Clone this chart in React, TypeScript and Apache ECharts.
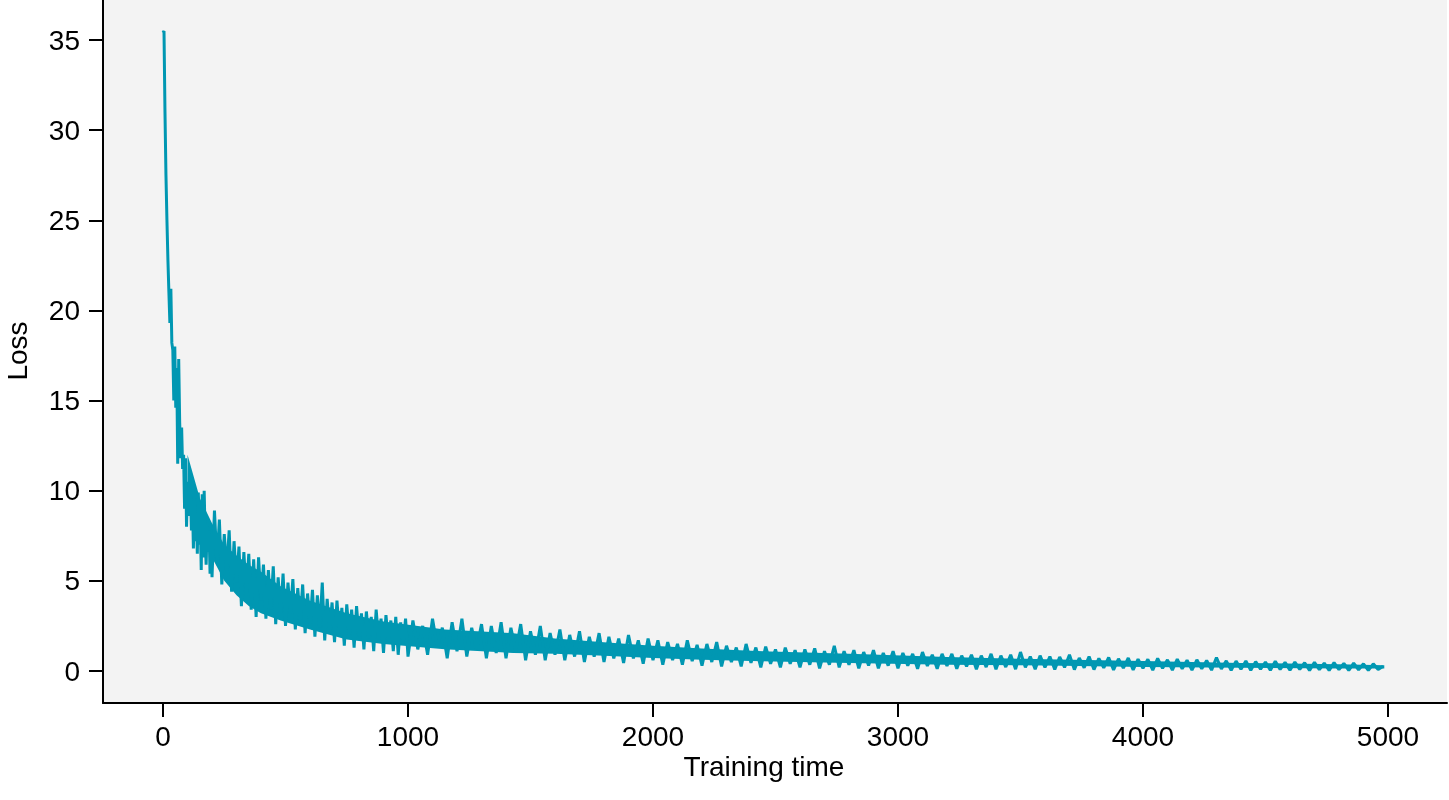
import React, { useEffect, useRef } from 'react';
import * as echarts from 'echarts';

// training steps 0..196, every 4
const earlyStart = 0;
const earlyStep = 4;
const earlyLoss = [
  35.4, 35.5, 31.0, 27.5, 25.0, 22.8, 21.0, 19.3, 21.2, 18.2,
  17.8, 15.0, 18.0, 14.6, 16.8, 11.5, 17.3, 13.8, 11.8, 13.5,
  11.2, 12.0, 9.0, 11.8, 8.0, 10.5, 9.2, 8.6, 10.0, 7.8,
  9.4, 6.8, 9.6, 7.2, 8.8, 6.5, 9.9, 7.0, 8.4, 5.6,
  9.8, 6.3, 10.0, 7.4, 5.9, 8.1, 6.6, 7.8, 5.4, 7.6,
];

// training steps 200..990, every 10
const midStart = 200;
const midStep = 10;
const midLoss = [
  5.2, 8.9, 6.0, 8.4, 4.8, 7.6, 5.6, 7.8, 4.4, 7.2,
  4.9, 6.9, 3.6, 6.6, 4.2, 6.5, 3.4, 6.2, 3.0, 6.3,
  3.9, 5.9, 2.9, 5.6, 3.4, 5.8, 2.6, 5.2, 3.1, 5.4,
  2.5, 4.9, 3.2, 5.1, 2.3, 4.6, 2.8, 4.8, 2.1, 4.3,
  2.6, 4.5, 1.9, 4.2, 2.4, 4.9, 1.7, 4.0, 2.2, 3.8,
  1.6, 3.9, 2.1, 3.5, 1.4, 3.7, 2.0, 3.4, 1.3, 3.6,
  1.9, 3.2, 1.2, 3.3, 1.8, 3.0, 1.1, 3.4, 1.7, 2.9,
  1.0, 3.1, 1.6, 2.8, 1.1, 3.0, 0.9, 2.7, 1.5, 2.9,
];

// training steps 1000..4980, every 20
const lateStart = 1000;
const lateStep = 20;
const lateLoss = [
  0.8, 2.8, 1.2, 2.5, 0.9, 2.9, 1.3, 2.4, 0.7, 2.7,
  1.1, 2.9, 0.8, 2.4, 1.2, 2.6, 0.7, 2.5, 1.0, 2.7,
  0.7, 2.4, 1.1, 2.6, 0.6, 2.2, 0.9, 2.5, 0.6, 2.1,
  0.9, 2.3, 0.6, 2.0, 0.8, 2.2, 0.5, 1.9, 0.8, 2.1,
  0.5, 1.9, 0.7, 1.8, 0.45, 2.0, 0.7, 1.7, 0.4, 1.8,
  0.6, 1.7, 0.35, 1.6, 0.6, 1.5, 0.35, 1.7, 0.55, 1.45,
  0.3, 1.5, 0.5, 1.6, 0.25, 1.4, 0.5, 1.3, 0.25, 1.5,
  0.45, 1.3, 0.2, 1.35, 0.4, 1.2, 0.2, 1.3, 0.4, 1.15,
  0.2, 1.2, 0.35, 1.25, 0.15, 1.1, 0.35, 1.4, 0.2, 1.1,
  0.35, 1.15, 0.15, 1.05, 0.3, 1.15, 0.15, 1.0, 0.3, 1.1,
  0.15, 1.0, 0.3, 0.95, 0.12, 1.05, 0.28, 0.9, 0.12, 0.95,
  0.28, 0.95, 0.12, 0.85, 0.25, 0.9, 0.1, 0.85, 0.22, 0.95,
  0.1, 0.85, 0.22, 0.9, 0.1, 1.05, 0.2, 0.8, 0.1, 0.85,
  0.2, 0.8, 0.08, 0.78, 0.2, 0.9, 0.08, 0.72, 0.18, 0.8,
  0.08, 0.7, 0.18, 0.75, 0.06, 0.68, 0.16, 0.72, 0.06, 0.66,
  0.15, 0.65, 0.05, 0.7, 0.15, 0.62, 0.05, 0.66, 0.12, 0.6,
  0.05, 0.62, 0.12, 0.58, 0.05, 0.75, 0.12, 0.56, 0.04, 0.55,
  0.1, 0.56, 0.04, 0.52, 0.1, 0.5, 0.04, 0.54, 0.09, 0.48,
  0.04, 0.5, 0.09, 0.46, 0.03, 0.48, 0.08, 0.44, 0.03, 0.47,
  0.08, 0.42, 0.03, 0.44, 0.07, 0.4, 0.04, 0.4, 0.08, 0.26,
];

// dense core of the noisy band
const coreSteps = [100, 150, 200, 250, 300, 350, 400, 480, 600, 750, 900, 1150, 1430, 1600, 1800, 2000, 2200, 2400, 2800, 3200, 3600, 4000, 4400, 4800, 4985];
const coreLow = [9.5, 7.6, 6.3, 5.0, 4.2, 3.6, 3.2, 2.8, 2.3, 1.75, 1.5, 1.2, 1.0, 0.95, 0.85, 0.72, 0.62, 0.55, 0.45, 0.35, 0.3, 0.22, 0.18, 0.14, 0.14];
const coreHigh = [12.0, 9.6, 8.2, 7.0, 6.4, 5.9, 5.5, 4.7, 3.9, 3.2, 2.75, 2.3, 2.1, 1.8, 1.6, 1.4, 1.25, 1.12, 0.95, 0.78, 0.65, 0.55, 0.45, 0.38, 0.32];

const xTicks = [0, 1000, 2000, 3000, 4000, 5000];
const yTicks = [0, 5, 10, 15, 20, 25, 30, 35];

const FONT = '"Liberation Sans", Arial, sans-serif';
const TEAL = '#0097b2';

const App = () => {
  const chartRef = useRef(null);

  useEffect(() => {
    const chart = echarts.init(chartRef.current, null, { renderer: 'svg' });

    const points: [number, number][] = [];
    earlyLoss.forEach((v, i) => points.push([earlyStart + i * earlyStep, v]));
    midLoss.forEach((v, i) => points.push([midStart + i * midStep, v]));
    lateLoss.forEach((v, i) => points.push([lateStart + i * lateStep, v]));

    const bandData = coreSteps.map((s, i) => [s, coreLow[i], coreHigh[i]]);

    const axisCommon = {
      axisLine: { show: true, onZero: false, lineStyle: { color: '#000', width: 2 } },
      splitLine: { show: false },
    };

    chart.setOption({
      animation: false,
      grid: {
        left: 103,
        right: 2,
        top: 0,
        bottom: 97,
        show: true,
        backgroundColor: '#f3f3f3',
        borderWidth: 0,
      },
      xAxis: {
        type: 'value',
        min: -245,
        max: 5241,
        ...axisCommon,
        axisTick: { show: true, length: 14, lineStyle: { color: '#000', width: 2 }, customValues: xTicks },
        axisLabel: {
          color: '#000', fontSize: 28, fontFamily: FONT, margin: 19,
          customValues: xTicks, formatter: (v: number) => String(v),
        },
      },
      yAxis: {
        type: 'value',
        min: -1.775,
        max: 37.22,
        ...axisCommon,
        axisTick: { show: true, length: 14, lineStyle: { color: '#000', width: 2 }, customValues: yTicks },
        axisLabel: {
          color: '#000', fontSize: 28, fontFamily: FONT, margin: 23,
          customValues: yTicks, formatter: (v: number) => String(v),
        },
      },
      graphic: [
        {
          type: 'text',
          x: 764,
          y: 766,
          style: {
            text: 'Training time',
            fill: '#000',
            font: `28px ${FONT}`,
            textAlign: 'center',
            textVerticalAlign: 'middle',
          },
        },
        {
          type: 'text',
          x: 17,
          y: 351,
          rotation: Math.PI / 2,
          style: {
            text: 'Loss',
            fill: '#000',
            font: `28px ${FONT}`,
            textAlign: 'center',
            textVerticalAlign: 'middle',
          },
        },
      ],
      series: [
        {
          type: 'custom',
          data: bandData,
          silent: true,
          encode: { x: 0, y: [1, 2] },
          renderItem: (params: any, api: any) => {
            if (params.dataIndex !== 0) return null;
            const upper = bandData.map((d) => api.coord([d[0], d[2]]));
            const lower = bandData.map((d) => api.coord([d[0], d[1]])).reverse();
            return {
              type: 'polygon',
              shape: { points: upper.concat(lower) },
              style: { fill: TEAL },
            };
          },
        },
        {
          type: 'line',
          data: points,
          showSymbol: false,
          symbol: 'none',
          lineStyle: { color: TEAL, width: 3 },
        },
      ],
    });

    return () => {
      chart.dispose();
    };
  }, []);

  return (
    <div
      ref={chartRef}
      style={{ position: 'fixed', left: 0, top: 0, width: '1449px', height: '800px' }}
    ></div>
  );
};

export default App;
